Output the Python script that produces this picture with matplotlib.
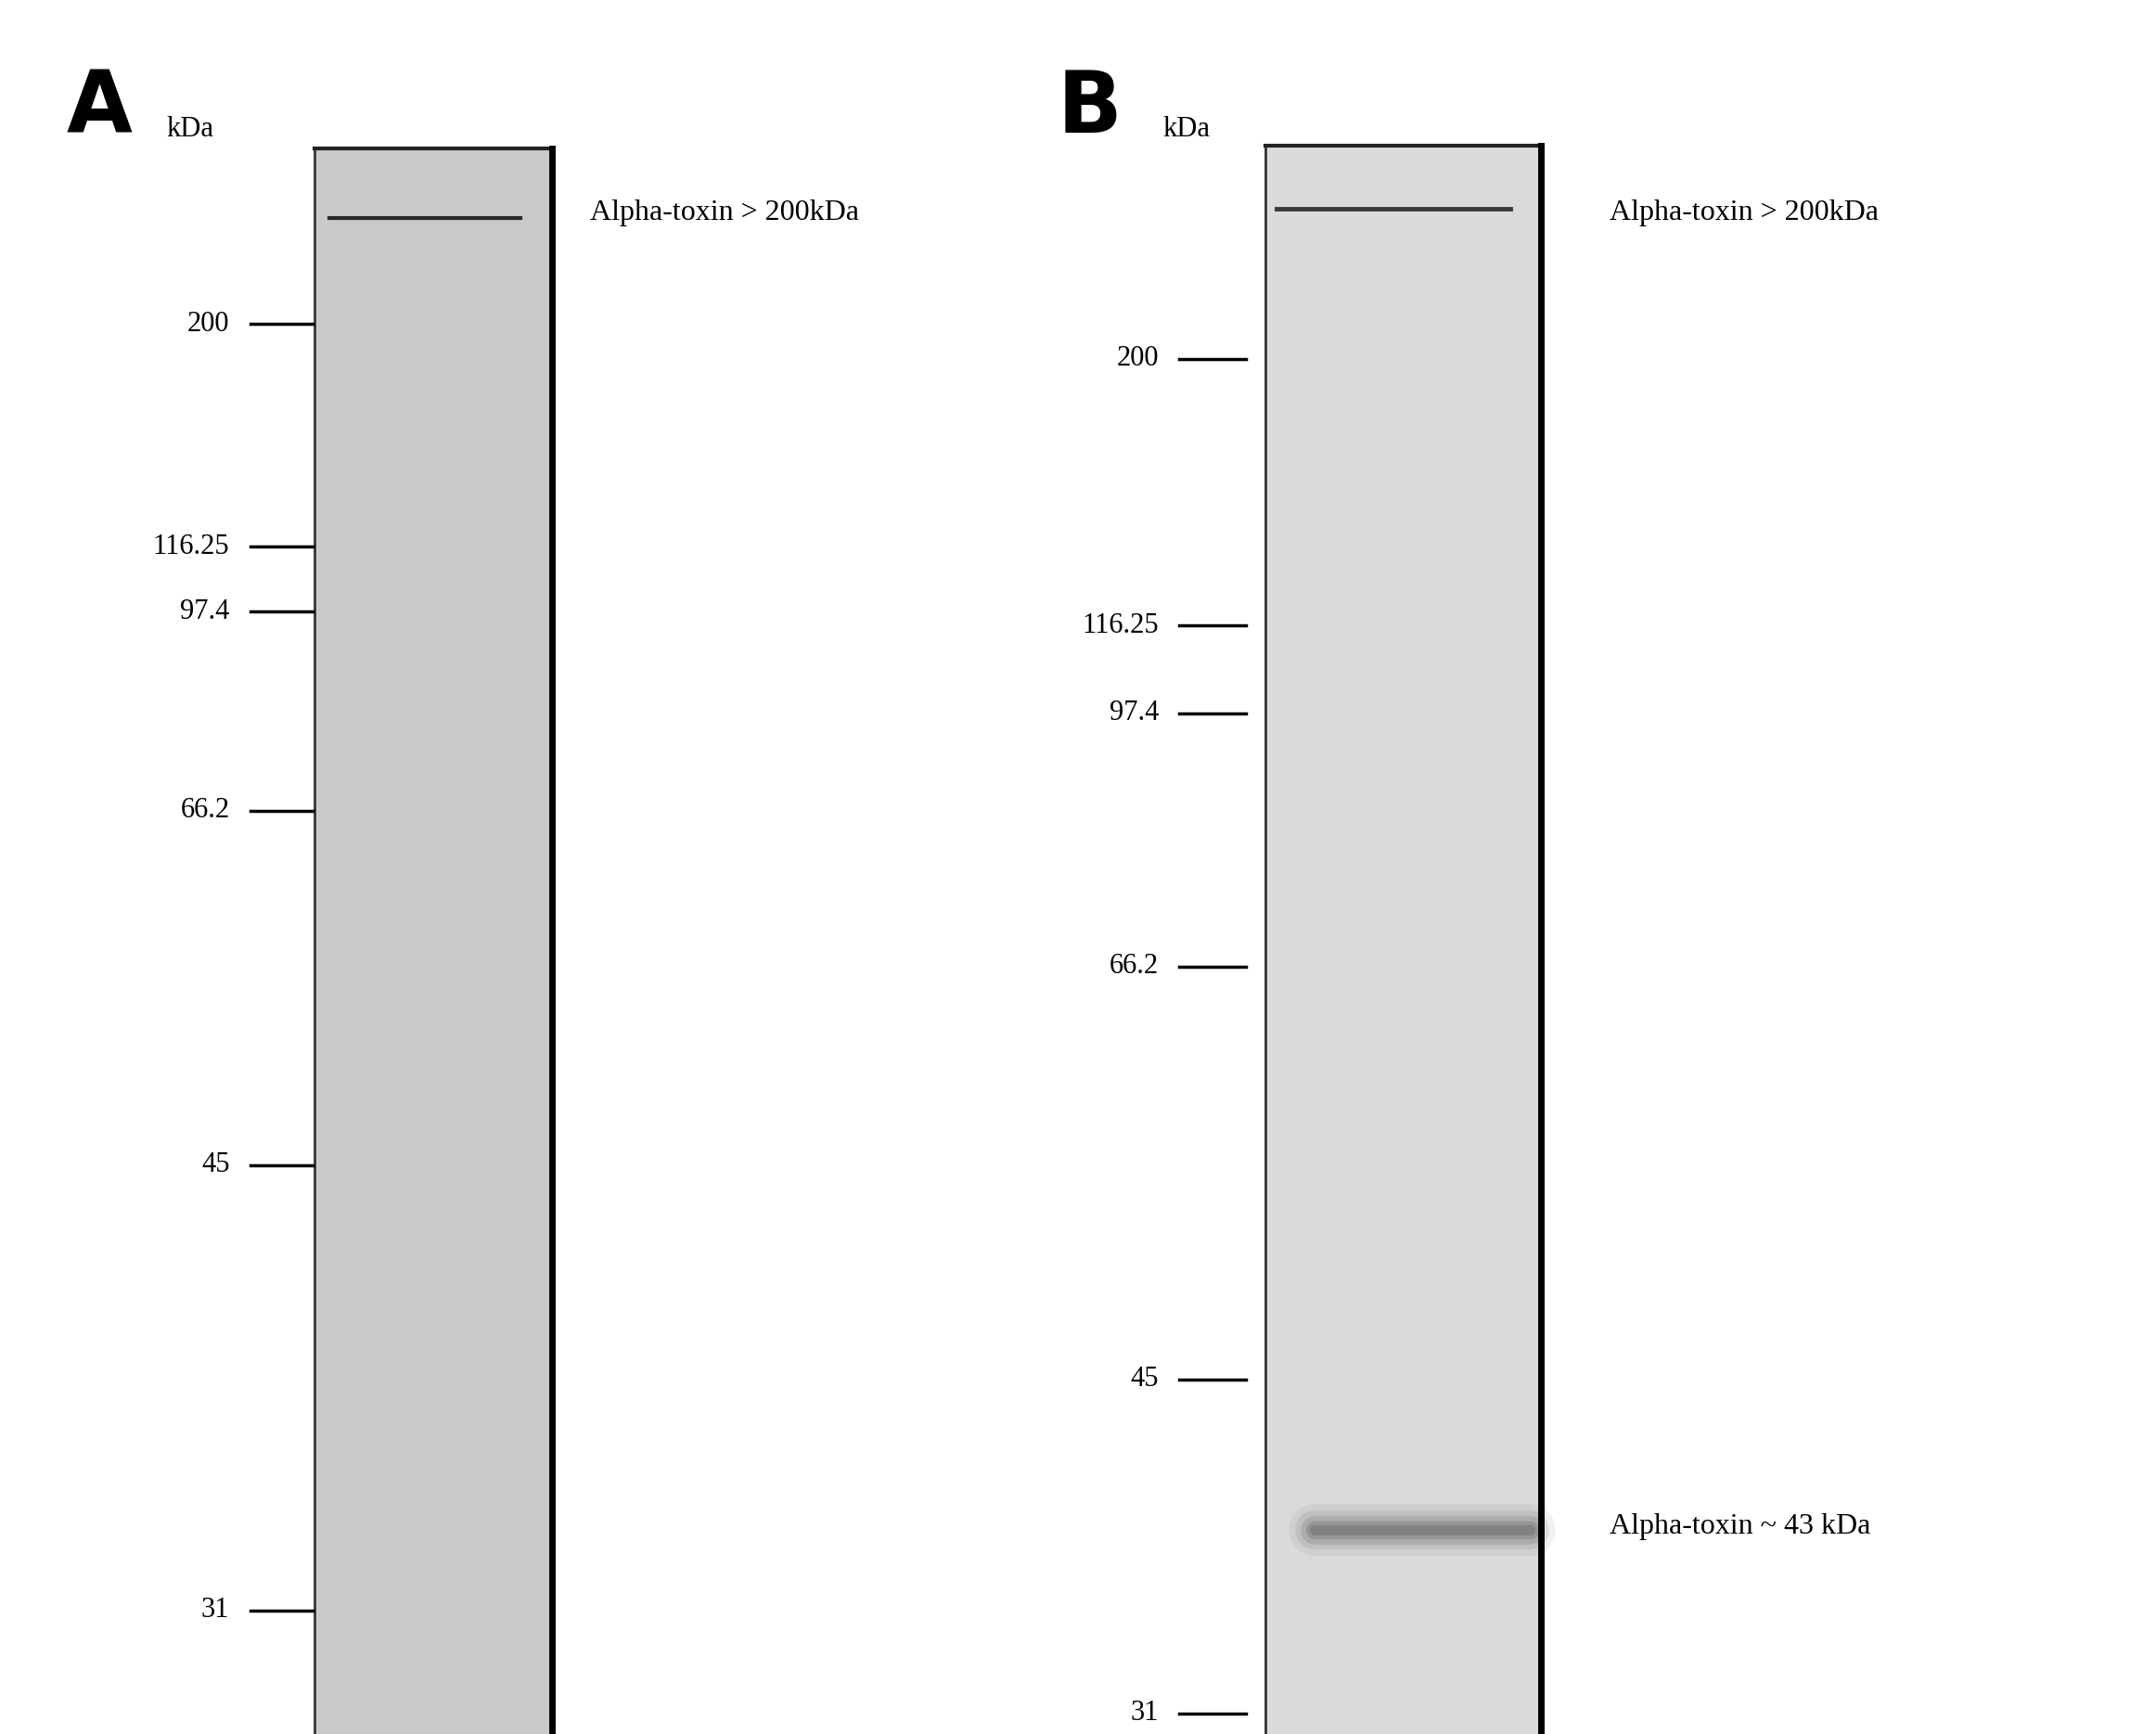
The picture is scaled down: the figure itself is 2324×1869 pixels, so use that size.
import numpy as np
import matplotlib.pyplot as plt
from matplotlib.patches import Rectangle

plt.rcParams['font.family'] = ['Liberation Serif', 'DejaVu Serif']

# marker ladder (kDa) and their migration positions (px from top, reference scale)
marker_labels = ['200', '116.25', '97.4', '66.2', '45', '31']
marker_pos_a = [233, 393, 440, 583, 838, 1158]
marker_pos_b = [258, 450, 513, 695, 992, 1232]

band_labels_a = ['Alpha-toxin > 200kDa']
band_pos_a = [157]
band_labels_b = ['Alpha-toxin > 200kDa', 'Alpha-toxin ~ 43 kDa']
band_pos_b = [150, 1100]

W, H = 1550, 1247
fig = plt.figure(figsize=(23.24, 18.69), dpi=100)
ax = fig.add_axes([0, 0, 1, 1])
ax.set_xlim(0, W)
ax.set_ylim(H, 0)
ax.axis('off')


def draw_gel(x0, x1, y0, y1, shade):
    ax.add_patch(Rectangle((x0, y0), x1 - x0, y1 - y0, facecolor=shade,
                           edgecolor='none', zorder=1))
    ax.plot([x0, x0], [y0, y1], color='#333333', lw=2, zorder=3)
    ax.plot([x0, x1], [y0, y0], color='#222222', lw=3, zorder=3)
    ax.plot([x1, x1], [y0, y1], color='black', lw=5, zorder=3)
    ax.plot([x0, x1], [y1, y1], color='#222222', lw=3, zorder=3)


def draw_markers(positions, x_tick0, x_tick1, x_text):
    for lab, y in zip(marker_labels, positions):
        ax.plot([x_tick0, x_tick1], [y, y], color='black', lw=2.5, zorder=3)
        ax.text(x_text, y, lab, ha='right', va='center', fontsize=22)


# Panel A
draw_gel(226, 397, 107, 1258, '#c9c9c9')
ax.plot([237, 374], [band_pos_a[0], band_pos_a[0]], color='#2a2a2a', lw=3, zorder=2)
draw_markers(marker_pos_a, 180, 225, 165)
ax.text(48, 78, 'A', fontsize=66, fontweight='bold', family='DejaVu Sans', va='center')
ax.text(120, 93, 'kDa', fontsize=22, va='center')
for lab, y in zip(band_labels_a, band_pos_a):
    ax.text(424, y - 4, lab, fontsize=23, va='center')

# Panel B
draw_gel(910, 1108, 105, 1255, '#dadada')
ax.plot([918, 1086], [band_pos_b[0], band_pos_b[0]], color='#3a3a3a', lw=3.5, zorder=2)
# diffuse 43 kDa band
for w, a in [(40, 0.08), (30, 0.12), (22, 0.18), (14, 0.25), (8, 0.3)]:
    ax.plot([945, 1100], [band_pos_b[1], band_pos_b[1]], color='#555555',
            lw=w, alpha=a, solid_capstyle='round', zorder=2)
draw_markers(marker_pos_b, 848, 896, 833)
ax.text(760, 78, 'B', fontsize=66, fontweight='bold', family='DejaVu Sans', va='center')
ax.text(836, 93, 'kDa', fontsize=22, va='center')
for lab, y in zip(band_labels_b, band_pos_b):
    ax.text(1157, y + 3 if y < 500 else y - 2, lab, fontsize=23, va='center')

fig.savefig('out.png', dpi=100)
